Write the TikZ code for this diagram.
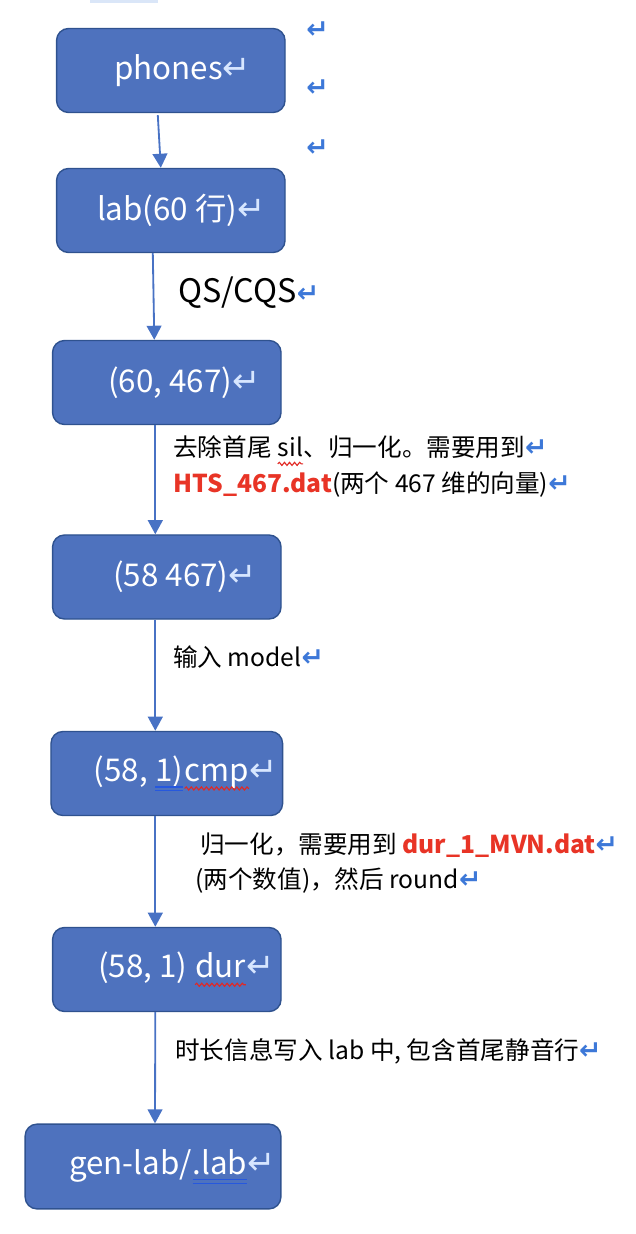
\documentclass[tikz,border=0pt]{standalone}
\usepackage{fontspec}
\setmainfont{Noto Sans CJK SC}
\newfontfamily\symfont{DejaVu Sans}
\usetikzlibrary{arrows.meta,calc,decorations.pathmorphing}
\definecolor{boxfill}{RGB}{78,114,190}
\definecolor{boxline}{RGB}{47,82,143}
\definecolor{flowblue}{RGB}{72,114,196}
\definecolor{markblue}{RGB}{61,120,216}
\definecolor{gramblue}{RGB}{38,88,222}
\definecolor{keyred}{RGB}{232,52,38}
\definecolor{selblue}{RGB}{218,230,248}
\definecolor{spellred}{RGB}{225,40,35}
\definecolor{marklight}{RGB}{215,230,255}
\newcommand{\retmark}{{\symfont\bfseries\color{markblue}\fontsize{19}{19}\selectfont ↵}}
\newcommand{\boxmark}{{\symfont\color{marklight}\fontsize{24}{24}\selectfont ↵}}
\newcommand{\keyfile}[1]{{\bfseries\color{keyred}#1}}
\tikzset{plainword/.style={draw=none,fill=none,inner sep=0pt,outer sep=0pt,minimum width=0pt,minimum height=0pt}}
% word with a red wavy line / blue double line under it
\newcommand{\spellwave}[1]{\tikz[baseline=(w.base),every node/.style={}]{\node[plainword] (w) {#1};
  \draw[spellred,sharp corners,line width=0.8pt,decorate,decoration={snake,segment length=3.6pt,amplitude=1.1pt}] ([yshift=-5pt]w.base west) -- ([yshift=-5pt]w.base east);}}
\newcommand{\gramline}[1]{\tikz[baseline=(w.base),every node/.style={}]{\node[plainword] (w) {#1};
  \draw[gramblue,sharp corners,line width=0.9pt] ([yshift=-4pt]w.base west) -- ([yshift=-4pt]w.base east)
    ([yshift=-6.5pt]w.base west) -- ([yshift=-6.5pt]w.base east);}}

\begin{document}
\begin{tikzpicture}[x=0.025cm,y=-0.025cm]
        \useasboundingbox (0,0) rectangle (636,1234);
        \fill[selblue] (90,0) rectangle (158,3);
        \begin{scope}[every node/.style={draw=boxline,fill=boxfill,rounded corners=8.5pt,line width=1pt,text=white,minimum width=5.71cm,minimum height=2.1cm,font=\fontsize{22.3}{24}\selectfont}]
          \node (phones) at (170.8,70.5) {\hspace*{17pt}phones\boxmark};
          \node (lab) at (170.8,210.5) {\hspace*{15pt}lab(60 行)\boxmark};
          \node (full) at (166.8,382.5) {\hspace*{25pt}(60, 467)\boxmark};
          \node (trim) at (166.8,577) {\hspace*{26pt}(58 467)\boxmark};
          \node (cmp) at (166.8,773.5) {\hspace*{27pt}(58, \gramline{1)}\spellwave{cmp}\boxmark};
          \node (dur) at (166.8,969.5) {\hspace*{28pt}(58, 1) \spellwave{dur}\boxmark};
          \node[minimum width=6.31cm,minimum height=2.12cm] (gen) at (153,1166.5) {\hspace*{28pt}gen-lab/\gramline{.lab}\boxmark};
        \end{scope}
        \begin{scope}[every edge/.style={draw=flowblue,line width=1.3pt,-{Triangle[width=10.5pt,length=10pt]}}]
          \path ($(phones.south)+(-13,2)$) edge ($(lab.north)+(-10,0)$);
          \path ($(lab.south)+(-18,0)$) edge ($(full.north)+(-12.5,0)$);
          \path ($(full.south)+(-11.5,0)$) edge ($(trim.north)+(-11.5,0)$);
          \path ($(trim.south)+(-11.5,0)$) edge ($(cmp.north)+(-11.5,0)$);
          \path ($(cmp.south)+(-11.5,0)$) edge ($(dur.north)+(-11.5,0)$);
          \path ($(dur.south)+(-11.5,0)$) edge ($(gen.north)+(2,0)$);
        \end{scope}
        \begin{scope}[every node/.style={anchor=west,inner sep=0pt,font=\fontsize{17.5}{17.5}\selectfont}]
          \node (mark1) at (306,30) {\retmark};
          \node (mark2) at (306,88) {\retmark};
          \node (mark3) at (306,148) {\retmark};
          \node (qs) at (178,293) {\fontsize{23}{23}\selectfont QS/CQS\retmark};
          \node (strip) at (173,451) {去除首尾 \spellwave{sil}、归一化。需要用到\retmark};
          \node (hts) at (173,485) {\keyfile{HTS\_467.dat}(两个 467 维的向量)\retmark};
          \node (feed) at (173,657) {输入 model\retmark};
          \node (norm) at (200,845) {归一化，需要用到 \keyfile{dur\_1\_MVN.dat}\retmark};
          \node (vals) at (195,880) {(两个数值)，然后 round\retmark};
          \node (write) at (175,1051) {时长信息写入 lab 中, 包含首尾静音行\retmark};
        \end{scope}
      \end{tikzpicture}
\end{document}
